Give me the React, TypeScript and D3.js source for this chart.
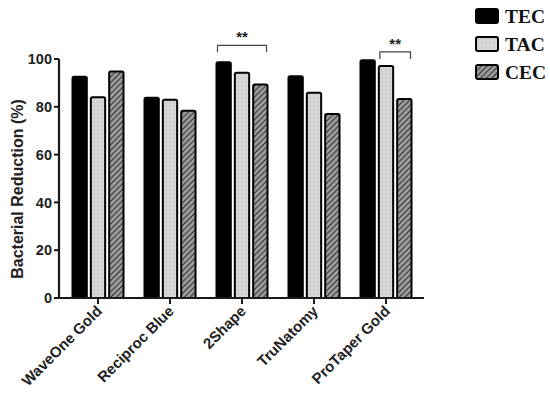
import React from 'react';
import * as d3 from 'd3';

const categories = ['WaveOne Gold', 'Reciproc Blue', '2Shape', 'TruNatomy', 'ProTaper Gold'];
const seriesNames = ['TEC', 'TAC', 'CEC'];
const tecValues = [92.6, 83.8, 98.6, 92.8, 99.5];
const tacValues = [84.0, 83.0, 94.2, 85.9, 97.1];
const cecValues = [94.8, 78.3, 89.3, 77.0, 83.3];
const yTicks = [0, 20, 40, 60, 80, 100];
// significance brackets: category, first series, last series
const brackets = [
  { cat: '2Shape', from: 'TEC', to: 'CEC', label: '**' },
  { cat: 'ProTaper Gold', from: 'TAC', to: 'CEC', label: '**' },
];

const W = 550;
const H = 395;
const fills = ['#000000', 'url(#dots)', 'url(#hatch)'];
const sans = 'Liberation Sans, Arial, sans-serif';

export default function App() {
  const x = d3.scaleBand<string>().domain(categories).range([62, 422]).paddingInner(0).paddingOuter(0);
  const xs = d3.scaleBand<string>().domain(seriesNames).range([-25.5, 25.5]).paddingInner(0.22);
  const y = d3.scaleLinear().domain([0, 100]).range([298, 59]);
  const series = [tecValues, tacValues, cecValues];

  const cx = (c: string) => (x(c) ?? 0) + x.bandwidth() / 2;

  return (
    <svg width={W} height={H} style={{ position: 'absolute', left: 0, top: 0, background: '#fff' }}>
      <defs>
        <pattern id="dots" width="4" height="4" patternUnits="userSpaceOnUse">
          <rect width="4" height="4" fill="#d6d6d6" />
          <circle cx="2" cy="2" r="0.7" fill="#b8b8b8" />
        </pattern>
        <pattern id="hatch" width="4" height="4" patternUnits="userSpaceOnUse" patternTransform="rotate(45)">
          <rect width="4" height="4" fill="#9a9a9a" />
          <line x1="0" y1="0" x2="0" y2="4" stroke="#333" strokeWidth="2" />
        </pattern>
      </defs>

      {/* bars */}
      {categories.map((c, i) => (
        <g key={c}>
          {seriesNames.map((s, j) => {
            const v = series[j][i];
            const bx = cx(c) + (xs(s) ?? 0);
            return (
              <rect
                key={s}
                x={bx}
                y={y(v)}
                width={xs.bandwidth()}
                height={y(0) - y(v)}
                fill={fills[j]}
                stroke="#000"
                strokeWidth={2}
                rx={1.5}
              />
            );
          })}
        </g>
      ))}

      {/* y axis */}
      <line x1={59} x2={59} y1={y(100)} y2={y(0) + 1} stroke="#1a1a1a" strokeWidth={2.2} />
      {yTicks.map((t) => (
        <g key={t}>
          <line x1={54} x2={59} y1={y(t)} y2={y(t)} stroke="#1a1a1a" strokeWidth={2} />
          <text
            x={52}
            y={y(t)}
            dy="0.36em"
            textAnchor="end"
            fontFamily={sans}
            fontWeight="bold"
            fontSize={14.5}
            fill="#222"
          >
            {t}
          </text>
        </g>
      ))}
      <text
        transform={`translate(23,${189}) rotate(-90)`}
        textAnchor="middle"
        fontFamily={sans}
        fontWeight="bold"
        fontSize={16}
        fill="#222"
      >
        Bacterial Reduction (%)
      </text>

      {/* x axis */}
      <line x1={57} x2={424} y1={y(0)} y2={y(0)} stroke="#1a1a1a" strokeWidth={2.2} />
      {categories.map((c) => (
        <g key={c}>
          <line x1={cx(c)} x2={cx(c)} y1={y(0)} y2={y(0) + 6} stroke="#1a1a1a" strokeWidth={2} />
          <text
            transform={`translate(${cx(c) + 5},${y(0) + 14}) rotate(-45)`}
            textAnchor="end"
            fontFamily={sans}
            fontWeight="bold"
            fontSize={15}
            fill="#222"
          >
            {c}
          </text>
        </g>
      ))}

      {/* significance */}
      {brackets.map((b) => {
        const x1 = cx(b.cat) + (xs(b.from) ?? 0) + 1;
        const x2 = cx(b.cat) + (xs(b.to) ?? 0) + xs.bandwidth() - 1;
        const i = categories.indexOf(b.cat);
        const top = Math.max(
          ...seriesNames.map((_, j) => series[j][i]).slice(seriesNames.indexOf(b.from), seriesNames.indexOf(b.to) + 1)
        );
        const by = y(top) - 17 + (b.cat === 'ProTaper Gold' ? 3 : 0);
        return (
          <g key={b.cat}>
            <path d={`M${x1},${by + 7}V${by}H${x2}V${by + 7}`} fill="none" stroke="#444" strokeWidth={1.2} />
            <text
              x={(x1 + x2) / 2}
              y={by - 3}
              textAnchor="middle"
              fontFamily={sans}
              fontWeight="bold"
              fontSize={15}
              fill="#222"
            >
              {b.label}
            </text>
          </g>
        );
      })}

      {/* legend */}
      {seriesNames.map((s, j) => (
        <g key={s} transform={`translate(476,${9 + j * 28})`}>
          <rect x={0} y={0} width={22} height={14} rx={2} fill={fills[j]} stroke="#000" strokeWidth={2} />
          <text
            x={29}
            y={13.5}
            fontFamily="Liberation Serif, Times New Roman, serif"
            fontWeight="bold"
            fontSize={19.5}
            fill="#111"
          >
            {s}
          </text>
        </g>
      ))}
    </svg>
  );
}
